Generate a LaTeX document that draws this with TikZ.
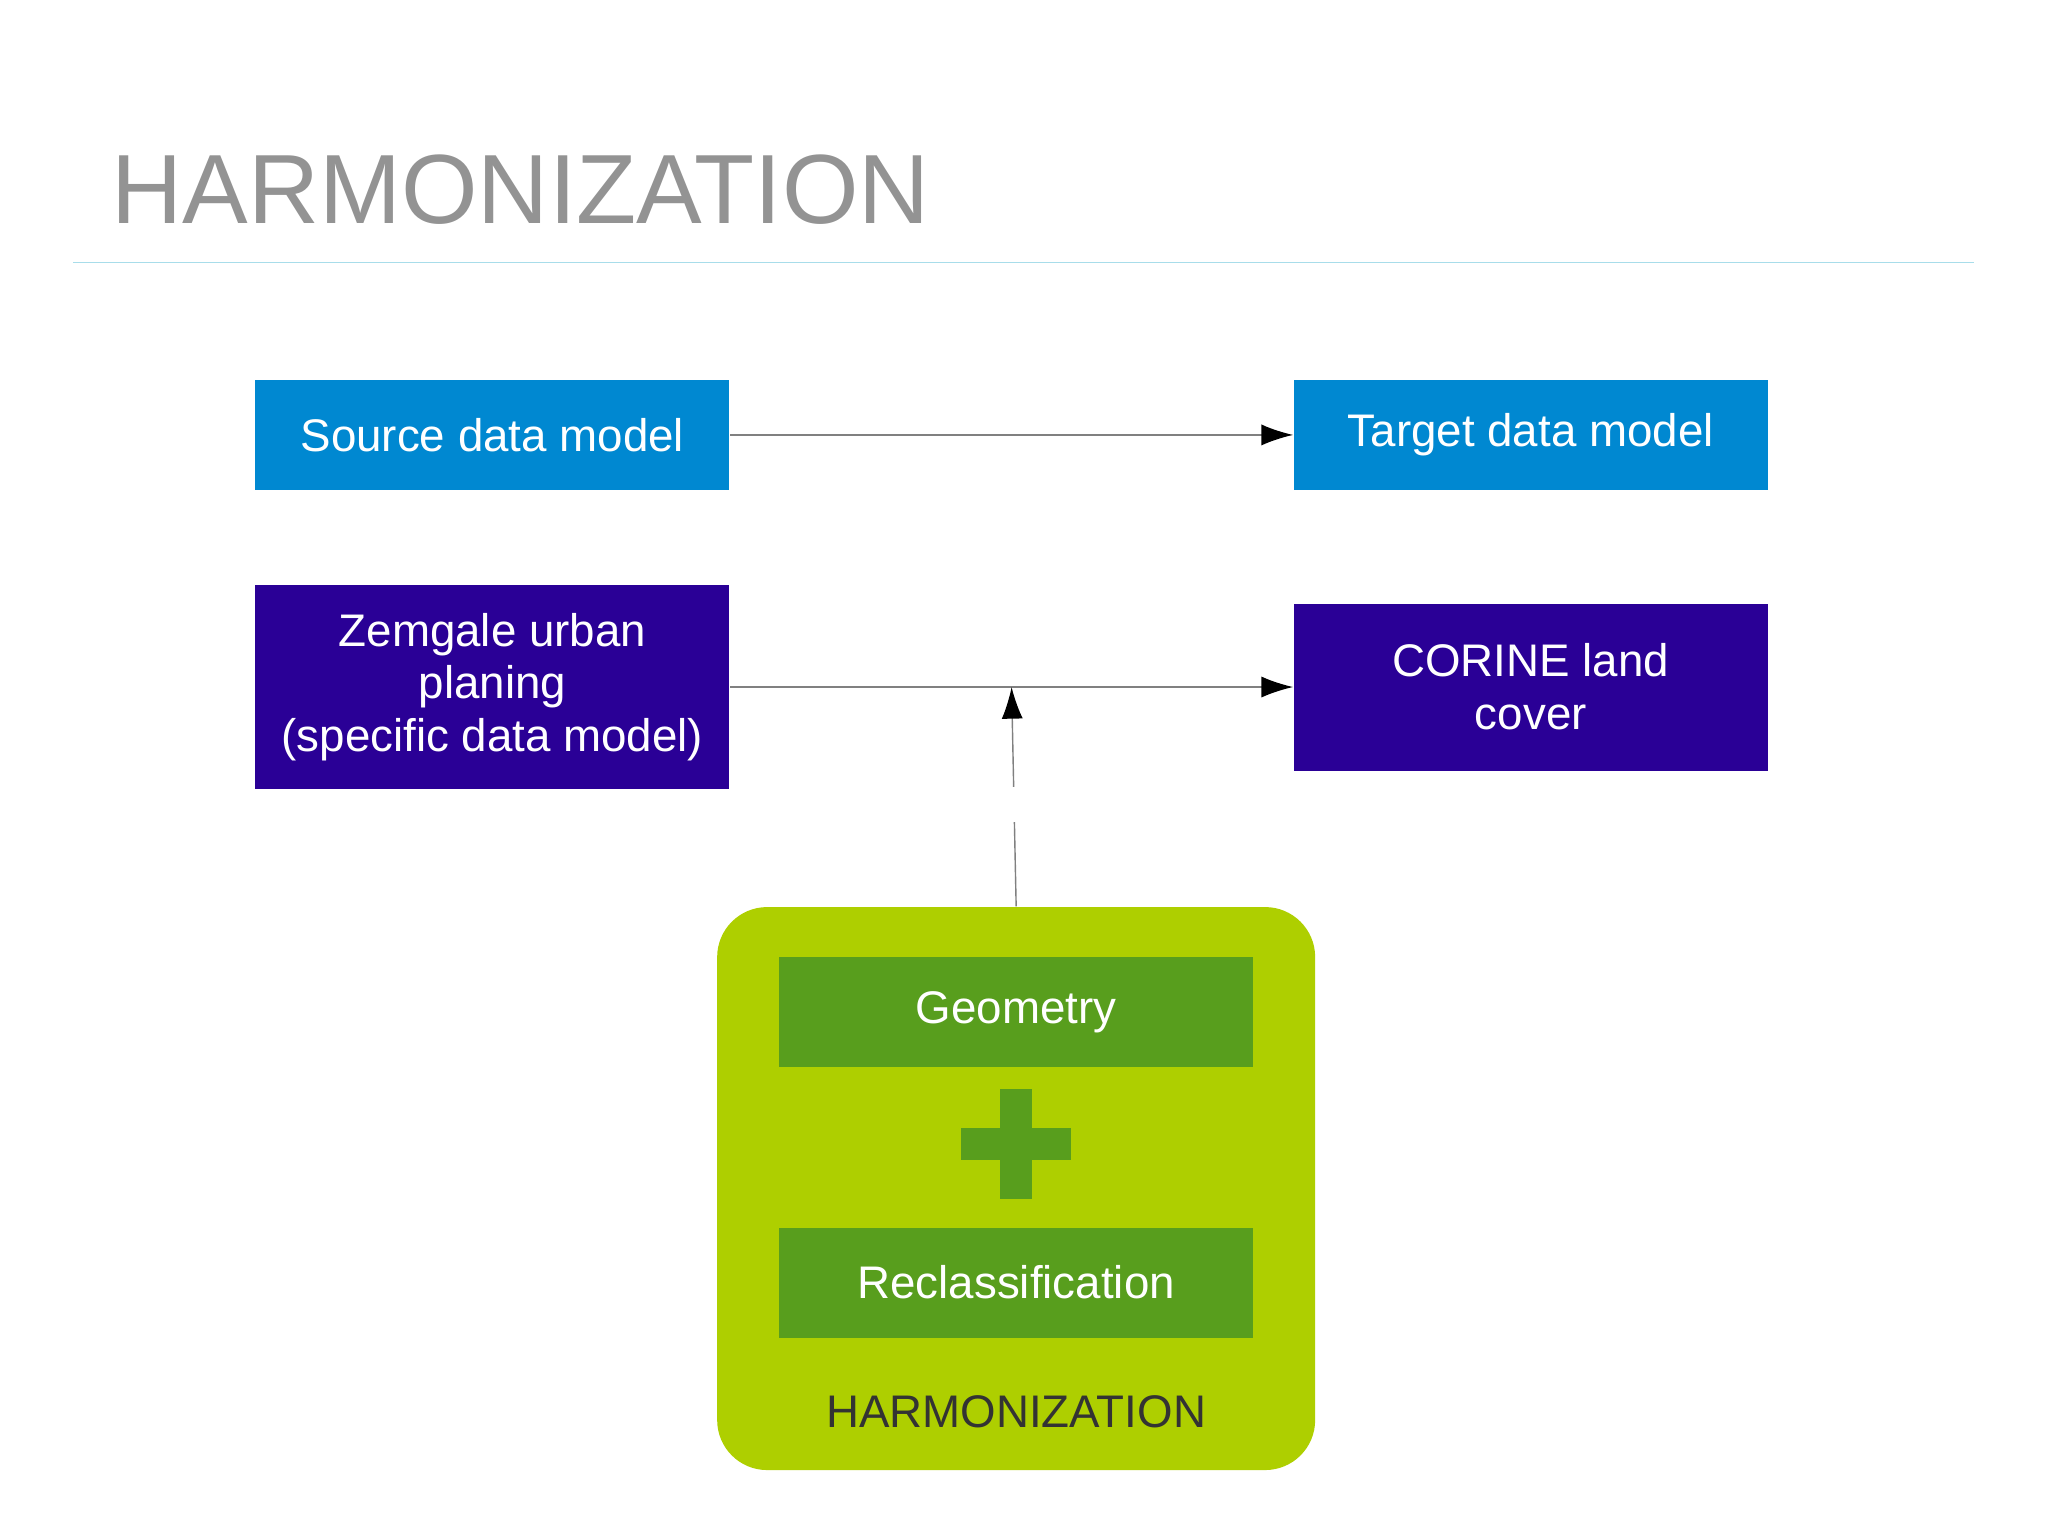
\documentclass[tikz,border=0pt]{standalone}
\usepackage{fontspec}
\setmainfont{Liberation Sans}
\usetikzlibrary{arrows.meta,calc}
\definecolor{blueBox}{HTML}{0088D1}
\definecolor{indigoBox}{HTML}{2A0096}
\definecolor{limeBox}{HTML}{AECF00}
\definecolor{greenBox}{HTML}{589E1D}
\definecolor{ruleCyan}{HTML}{A8DDEA}
\begin{document}
\begin{tikzpicture}[x=0.01306cm,y=-0.01306cm,
    box/.style={text=white,font=\fontsize{13}{15}\selectfont,align=center,
                minimum width=4.74cm,inner sep=0pt},
    flow/.style={draw=gray,thin,-{Latex[length=9pt,width=6pt,black]}}]
  \useasboundingbox (0,0) rectangle (1568,1175);
  \node[anchor=west,text=gray!85,font=\fontsize{28}{32}\selectfont] (title) at (76,145) {HARMONIZATION};
  \draw[ruleCyan] (56,201) -- (1511,201);

  \node[box,fill=blueBox,minimum height=1.10cm]   (src) at (377,333) {Source data model};
  \node[box,fill=blueBox,minimum height=1.10cm]   (tgt) at (1172,333) {Target data model};
  \node[box,fill=indigoBox,minimum height=2.04cm] (zem) at (377,526) {Zemgale urban\\planing\\(specific data model)};
  \node[box,fill=indigoBox,minimum height=1.67cm] (cor) at (1172,526) {CORINE land\\cover};

  \node[fill=limeBox,rounded corners=0.5cm,minimum width=5.98cm,minimum height=5.63cm] (harm) at (778,910) {};
  \node[box,fill=greenBox,minimum height=1.10cm] (geo) at (778,775) {Geometry};
  \node[box,fill=greenBox,minimum height=1.10cm] (rec) at (778,982) {Reclassification};
  \node[fill=greenBox,minimum width=1.10cm,minimum height=0.32cm,inner sep=0pt] (plusH) at (778,876) {};
  \node[fill=greenBox,minimum width=0.32cm,minimum height=1.10cm,inner sep=0pt] (plusV) at (778,876) {};
  \node[text=black!80,font=\fontsize{13}{15}\selectfont] (hlab) at (778,1081) {HARMONIZATION};

  \draw[flow] (src) -- (tgt);
  \draw[flow] (zem) -- (cor);
  \coordinate (mid) at ($(zem.east)!0.5!(cor.west)$);
  \draw[flow,dash pattern=on 24pt off 10pt] (harm.north) -- (mid);
\end{tikzpicture}
\end{document}
